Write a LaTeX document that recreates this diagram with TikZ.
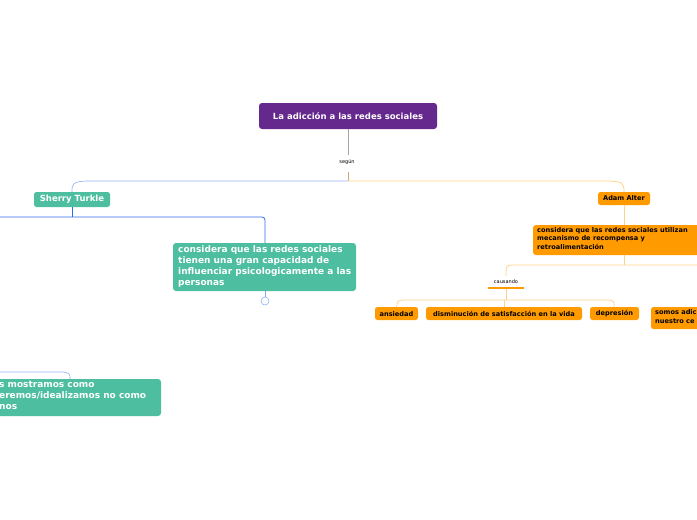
\documentclass[tikz,border=0pt]{standalone}
\usepackage{fontspec}
\setmainfont{DejaVu Sans}
\begin{document}
\begin{tikzpicture}[x=1pt,y=-1pt,
  box/.style={rounded corners=2.5pt,inner sep=0pt},
  teal/.style={box,fill=tealc},
  orng/.style={box,fill=orangec},
  wt/.style={text=white,font=\bfseries\fontsize{9}{11}\selectfont,align=left,anchor=north west,inner sep=0pt},
  bt/.style={text=black,font=\bfseries\fontsize{6.6}{8.5}\selectfont,align=left,anchor=north west,inner sep=0pt},
  bl/.style={draw=bluec,line width=0.8pt},
  blt/.style={draw=bluec!50,line width=0.7pt},
  ol/.style={draw=orangec!45,line width=0.8pt}]
\definecolor{tealc}{HTML}{4DBEA0}
\definecolor{orangec}{HTML}{FF9A00}
\definecolor{purplec}{HTML}{65288C}
\definecolor{bluec}{HTML}{2F6BF0}
\useasboundingbox (0,0) rectangle (697,520);
\clip (0,0) rectangle (697,520);
% title
\fill[purplec,rounded corners=3pt] (259,103) rectangle (437,129);
\node[text=white,font=\bfseries\fontsize{8.5}{10}\selectfont] (title) at (348,116.5) {La adicción a las redes sociales};
\draw[gray!70,line width=0.5pt] (348,129) -- (348,155);
\node[font=\fontsize{5}{6}\selectfont] (segun) at (347,162.5) {según};
\draw[brown!70,line width=0.6pt] (348,172) -- (348,181);
% top branches
\draw[blt] (348,181) -- (90,181) .. controls (72,181) and (72,184) .. (72,192);
\draw[ol] (348,181) -- (606,181) .. controls (624,181) and (624,184) .. (624,192);
% Sherry Turkle
\fill[tealc,rounded corners=2.5pt] (34,192) rectangle (110,207);
\node[text=white,font=\bfseries\fontsize{8.5}{10}\selectfont] (st) at (72,199.5) {Sherry Turkle};
\draw[bl] (72,207) -- (72,217);
\draw[bl,rounded corners=3pt] (0,217) -- (265,217) -- (265,243);
% consider box
\fill[tealc,rounded corners=3pt] (173,243) rectangle (356,291);
\node[wt] (c1) at (178,245) {considera que las redes sociales\\tienen una gran capacidad de\\influenciar psicologicamente a las\\personas};
\draw[bluec!60,line width=0.6pt] (265,291) -- (265,297);
\draw[bluec!60,line width=0.5pt,fill=white] (265,301) circle (4);
% bottom-left box
\draw[blt] (0,372) -- (60,372) .. controls (70,372) and (70,374) .. (70,379);
\fill[tealc,rounded corners=3pt] (-20,379) rectangle (161,416);
\node[wt] (c2) at (-1,381) {s mostramos como\\eremos/idealizamos no como\\nos};
% Adam Alter
\fill[orangec,rounded corners=2.5pt] (598,192) rectangle (650,205);
\node[text=black,font=\bfseries\fontsize{6.6}{8}\selectfont] (aa) at (624,198.5) {Adam Alter};
\draw[ol] (624,205) -- (624,225);
\fill[orangec,rounded corners=3pt] (533,225) rectangle (720,255);
\node[bt] (c3) at (537,227) {considera que las redes sociales utilizan\\mecanismo de recompensa y\\retroalimentación};
\draw[ol] (624,255) -- (624,265);
\draw[ol] (697,265) -- (512,265) .. controls (506,265) and (506,267) .. (506,276);
\node[font=\fontsize{5}{6}\selectfont] (caus) at (506,282) {causando};
\draw[orangec,line width=2pt] (488,288) -- (524,288);
\draw[ol] (506,289) -- (506,300);
\draw[ol] (506,300) -- (404,300) .. controls (397,300) and (397,302) .. (397,307);
\draw[ol] (506,300) -- (608,300) .. controls (614,300) and (614,302) .. (614,307);
\draw[ol] (504,300) -- (504,307);
% leaves
\fill[orangec,rounded corners=2.5pt] (375,307) rectangle (418,320);
\node[text=black,font=\bfseries\fontsize{6.6}{8}\selectfont] (l1) at (396.5,313.7) {ansiedad};
\fill[orangec,rounded corners=2.5pt] (426,307) rectangle (582,320);
\node[text=black,font=\bfseries\fontsize{6.6}{8}\selectfont] (l2) at (504,313.7) {disminución de satisfacción en la vida};
\fill[orangec,rounded corners=2.5pt] (590,307) rectangle (639,320);
\node[text=black,font=\bfseries\fontsize{6.6}{8}\selectfont] (l3) at (614.5,313.7) {depresión};
\fill[orangec,rounded corners=2.5pt] (651,307) rectangle (720,329);
\node[bt] (l4) at (655,309.5) {somos adic\\nuestro ce};
\end{tikzpicture}
\end{document}
